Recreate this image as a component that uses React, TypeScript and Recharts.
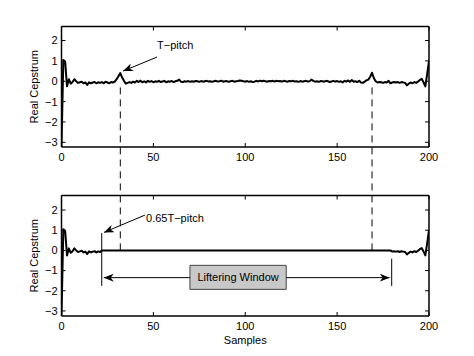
import {
  LineChart,
  Line,
  XAxis,
  YAxis,
  ReferenceLine,
  ReferenceDot,
  ReferenceArea,
} from "recharts";

// sample axis
const X_TICKS = [0, 50, 100, 150, 200];
const Y_TICKS = [-3, -2, -1, 0, 1, 2];

// real cepstrum, samples 0..200
const CEPSTRUM = [
  -3.2, 1.05, 0.95, -0.25, 0.1, -0.12, -0.04, 0.1, 0.0, -0.08,
  -0.05, -0.02, -0.1, -0.06, -0.18, -0.05, -0.1, -0.06, -0.04, -0.1,
  -0.05, -0.08, -0.04, -0.1, -0.02, -0.06, -0.1, -0.04, -0.06, -0.02,
  0.1, 0.25, 0.4, 0.18, 0.02, -0.12, -0.08, -0.04, -0.08, -0.02,
  -0.06, 0.02, -0.04, 0.03, -0.05, 0.0, -0.06, 0.02, -0.03, 0.01,
  -0.05, 0.0, -0.03, 0.02, -0.04, -0.01, 0.02, -0.05, 0.0, -0.02,
  0.01, -0.04, 0.0, 0.02, 0.08, -0.02, -0.04, 0.0, -0.02, 0.01,
  -0.03, 0.0, -0.02, 0.01, 0.0, -0.03, 0.01, -0.02, 0.0, 0.02,
  -0.01, 0.0, -0.03, 0.0, 0.02, -0.01, 0.0, 0.03, -0.02, 0.0,
  0.01, -0.03, 0.0, 0.02, -0.02, 0.0, 0.01, 0.04, 0.02, 0.0,
  -0.02, 0.01, -0.03, 0.0, -0.04, -0.02, 0.02, -0.01, 0.03, 0.0,
  0.02, 0.0, -0.02, 0.01, 0.0, 0.02, -0.01, 0.02, 0.0, 0.01,
  -0.02, 0.02, 0.0, -0.02, 0.01, 0.0, 0.02, -0.01, 0.0, -0.03,
  0.01, -0.02, 0.0, 0.02, -0.01, 0.0, 0.08, 0.02, -0.02, 0.0,
  -0.03, 0.01, 0.0, -0.02, 0.02, 0.0, -0.04, -0.01, 0.02, -0.02,
  0.01, -0.03, 0.0, -0.06, 0.02, -0.02, 0.04, -0.03, 0.06, -0.02,
  0.0, -0.04, 0.02, -0.06, -0.08, -0.02, 0.05, 0.08, 0.22, 0.42,
  0.15, 0.0, -0.06, -0.04, -0.05, -0.08, -0.04, -0.06, 0.02, -0.1,
  -0.06, -0.04, -0.06, -0.04, -0.08, -0.04, -0.06, -0.08, -0.2, -0.12,
  -0.06, -0.1, -0.04, -0.08, -0.02, 0.06, 0.12, -0.05, -0.25, 0.35,
  1.0,
];

const T_PITCH = 32;
const T_PITCH_MIRROR = 169;
const KEEP_HEAD = 21; // last sample kept at the start
const KEEP_TAIL = 180; // first sample kept at the end
const WINDOW_START = 21.9;
const WINDOW_END = 179.7;

const topData = CEPSTRUM.map((v, n) => ({ n, v }));
const bottomData = CEPSTRUM.map((v, n) => ({
  n,
  v: n <= KEEP_HEAD || n >= KEEP_TAIL ? v : 0,
}));

const TOP_DOMAIN: [number, number] = [-3.23, 2.69];
const BOTTOM_DOMAIN: [number, number] = [-3.25, 2.72];

const fmt = (v: number) => String(v).replace("-", "\u2212");
const blank = () => "";
const axisLine = { stroke: "#000", strokeWidth: 1.5 };
const tickLine = { stroke: "#000" };
const tickStyle = { fontSize: 11, fill: "#000" };
const thin = { stroke: "#000", strokeWidth: 1 };

function frame(yDomain: [number, number], samplesLabel: boolean) {
  return [
    <XAxis
      key="xb"
      dataKey="n"
      type="number"
      domain={[0, 200]}
      ticks={X_TICKS}
      interval={0}
      allowDataOverflow
      height={samplesLabel ? 40 : 20}
      tickSize={-4}
      tickMargin={10.6}
      axisLine={axisLine}
      tickLine={tickLine}
      tick={tickStyle}
      label={
        samplesLabel
          ? { value: "Samples", position: "insideBottom", offset: 12, fill: "#000", fontSize: 11 }
          : undefined
      }
    />,
    <XAxis
      key="xt"
      xAxisId="top"
      orientation="top"
      dataKey="n"
      type="number"
      domain={[0, 200]}
      ticks={X_TICKS}
      interval={0}
      allowDataOverflow
      height={1}
      tickSize={-4}
      tickFormatter={blank}
      axisLine={axisLine}
      tickLine={tickLine}
    />,
    <YAxis
      key="yl"
      type="number"
      domain={yDomain}
      ticks={Y_TICKS}
      interval={0}
      allowDataOverflow
      width={61.5}
      tickSize={-4}
      tickMargin={8}
      tickFormatter={fmt}
      axisLine={axisLine}
      tickLine={tickLine}
      tick={tickStyle}
      label={{ value: "Real Cepstrum", angle: -90, position: "center", dx: 3, fill: "#000", fontSize: 11 }}
    />,
    <YAxis
      key="yr"
      yAxisId="right"
      orientation="right"
      type="number"
      domain={yDomain}
      ticks={Y_TICKS}
      interval={0}
      allowDataOverflow
      width={1}
      tickSize={-4}
      tickFormatter={blank}
      axisLine={axisLine}
      tickLine={tickLine}
    />,
  ];
}

const labelText = (value: string) => ({
  value,
  position: "right" as const,
  offset: 0,
  fill: "#000",
  fontSize: 11,
});

export default function App() {
  return (
    <div
      style={{
        position: "absolute",
        left: 0,
        top: 0,
        width: 474,
        height: 356,
        background: "#fff",
        fontFamily: '"Liberation Sans", Arial, sans-serif',
      }}
    >
      <svg width={0} height={0} style={{ position: "absolute" }}>
        <defs>
          <marker
            id="head"
            viewBox="0 0 10 8"
            refX={10}
            refY={4}
            markerWidth={10}
            markerHeight={8}
            markerUnits="userSpaceOnUse"
            orient="auto-start-reverse"
          >
            <path d="M0,0 L10,4 L0,8 L3,4 Z" fill="#000" />
          </marker>
        </defs>
      </svg>

      {/* upper plot: real cepstrum */}
      <div style={{ position: "absolute", left: 0, top: 0 }}>
        <LineChart
          width={474}
          height={356}
          data={topData}
          margin={{ top: 25.5, right: 44, bottom: 189, left: 0 }}
        >
          {frame(TOP_DOMAIN, false)}
          <Line
            dataKey="v"
            stroke="#000"
            strokeWidth={2}
            strokeLinejoin="round"
            dot={false}
            activeDot={false}
            isAnimationActive={false}
          />
          <ReferenceLine
            segment={[{ x: 52, y: 1.19 }, { x: 33.5, y: 0.5 }]}
            ifOverflow="visible"
            {...thin}
            markerEnd="url(#head)"
          />
          <ReferenceDot x={52} y={1.78} r={0} fill="none" stroke="none" label={labelText("T\u2212pitch")} />
        </LineChart>
      </div>

      {/* lower plot: liftered cepstrum */}
      <div style={{ position: "absolute", left: 0, top: 0 }}>
        <LineChart
          width={474}
          height={356}
          data={bottomData}
          margin={{ top: 194.5, right: 44, bottom: 0, left: 0 }}
        >
          {frame(BOTTOM_DOMAIN, true)}
          <Line
            dataKey="v"
            stroke="#000"
            strokeWidth={2}
            strokeLinejoin="round"
            dot={false}
            activeDot={false}
            isAnimationActive={false}
          />
          {[T_PITCH, T_PITCH_MIRROR].map((x) => (
            <ReferenceLine
              key={x}
              segment={[{ x, y: 0 }, { x, y: 8.25 }]}
              ifOverflow="visible"
              {...thin}
              strokeDasharray="7 5"
            />
          ))}
          <ReferenceLine
            segment={[{ x: WINDOW_START, y: 0.86 }, { x: WINDOW_START, y: -1.76 }]}
            ifOverflow="visible"
            {...thin}
          />
          <ReferenceLine
            segment={[{ x: WINDOW_END, y: -0.41 }, { x: WINDOW_END, y: -1.76 }]}
            ifOverflow="visible"
            {...thin}
          />
          <ReferenceLine
            segment={[{ x: 45.4, y: 1.75 }, { x: 23.1, y: 0.89 }]}
            ifOverflow="visible"
            {...thin}
            markerEnd="url(#head)"
          />
          <ReferenceDot x={46} y={1.62} r={0} fill="none" stroke="none" label={labelText("0.65T\u2212pitch")} />
          <ReferenceLine
            segment={[{ x: 69.9, y: -1.35 }, { x: 23, y: -1.35 }]}
            ifOverflow="visible"
            {...thin}
            markerEnd="url(#head)"
          />
          <ReferenceLine
            segment={[{ x: 122.3, y: -1.35 }, { x: 178.6, y: -1.35 }]}
            ifOverflow="visible"
            {...thin}
            markerEnd="url(#head)"
          />
          <ReferenceArea
            x1={69.9}
            x2={122.3}
            y1={-1.93}
            y2={-0.74}
            fill="#c8c8c8"
            fillOpacity={1}
            stroke="#444"
            strokeWidth={1}
            label={{ value: "Liftering Window", position: "center", fill: "#000", fontSize: 11 }}
          />
        </LineChart>
      </div>
    </div>
  );
}
